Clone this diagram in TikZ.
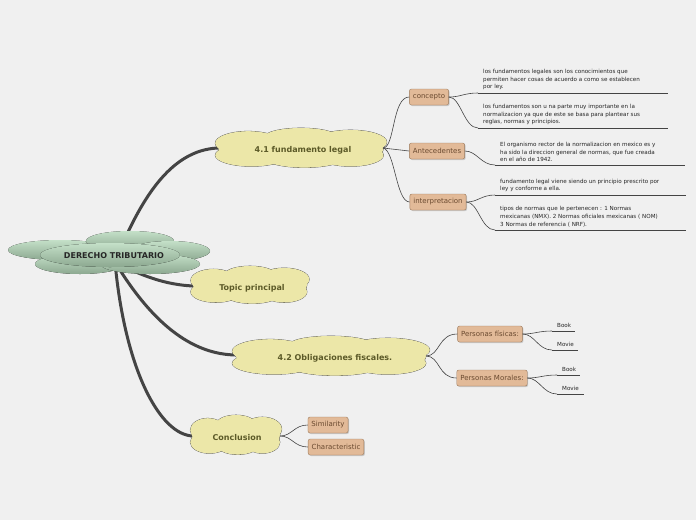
\documentclass[tikz,border=0pt]{standalone}
\usepackage{fontspec}
\setmainfont{DejaVu Sans}
\usetikzlibrary{shadows,calc}
\definecolor{bg}{HTML}{F0F0F0}
\definecolor{cloudy}{HTML}{ECE7A8}
\definecolor{cloudtxt}{HTML}{5C5A28}
\definecolor{boxf}{HTML}{E2BA98}
\definecolor{boxd}{HTML}{9C7A5C}
\definecolor{boxt}{HTML}{6A4A30}
\definecolor{lnk}{HTML}{444444}
\definecolor{gtop}{HTML}{C4E0C8}
\definecolor{gbot}{HTML}{8CA890}
\begin{document}
\begin{tikzpicture}[x=1pt,y=-1pt,
  box/.style={draw=boxd,fill=boxf,rounded corners=2pt,font=\fontsize{7}{8}\selectfont,text=boxt,inner sep=3.5pt,minimum height=16pt,drop shadow={opacity=0.35,shadow xshift=1pt,shadow yshift=-1pt}},
  leaf/.style={anchor=south west,align=left,font=\fontsize{5.6}{7.6}\selectfont,text=black!85,inner sep=1pt},
  ctxt/.style={font=\bfseries\fontsize{8}{9}\selectfont,text=cloudtxt},
  thin/.style={draw=lnk,line width=0.6pt},
  under/.style={draw=lnk,line width=0.8pt},
  main/.style={draw=lnk,line width=3pt,line cap=round}]
\fill[bg] (0,0) rectangle (696,520);
\useasboundingbox (0,0) rectangle (696,520);
\newcommand{\cloud}[5]{%
  \foreach \dx/\dy/\rx/\ry in {-0.32/-0.12/0.2/0.3, 0/-0.28/0.22/0.22, 0.3/-0.15/0.22/0.3, -0.3/0.18/0.22/0.28, 0.02/0.22/0.25/0.27, 0.3/0.18/0.2/0.28, -0.35/0/0.15/0.3, 0.36/0/0.14/0.3}
    \draw[lnk,line width=0.6pt] ({#1+\dx*#3},{#2+\dy*#4}) ellipse [x radius={\rx*#3},y radius={\ry*#4}];
  \foreach \dx/\dy/\rx/\ry in {-0.32/-0.12/0.2/0.3, 0/-0.28/0.22/0.22, 0.3/-0.15/0.22/0.3, -0.3/0.18/0.22/0.28, 0.02/0.22/0.25/0.27, 0.3/0.18/0.2/0.28, -0.35/0/0.15/0.3, 0.36/0/0.14/0.3, 0/0/0.3/0.25}
    \fill[#5] ({#1+\dx*#3},{#2+\dy*#4}) ellipse [x radius={\rx*#3},y radius={\ry*#4}];
}
\newcommand{\leafline}[6]{%
  \coordinate (#5a) at (#2,#3); \coordinate (#5b) at (#4,#3);
  \draw[thin] (#1.east) .. controls ($(#1.east)+(12,0)$) and ($(#5a)+(-14,0)$) .. (#5a);
  \draw[under] (#5a) -- (#5b);
  \node[leaf] (#5) at ($(#5a)+(4,-2)$) {#6};}
% main connectors
\coordinate (m) at (115,262);
\draw[main] (m) .. controls (140,200) and (170,150) .. (218,148);
\draw[main] (m) .. controls (140,275) and (165,285) .. (194,286);
\draw[main] (m) .. controls (150,320) and (190,355) .. (237,355);
\draw[main] (m) .. controls (125,370) and (160,435) .. (193,436);
% main cloud
\foreach \dx/\dy/\rx/\ry in {-50/-5/52/10, 20/-14/44/10, 60/-4/40/10, -30/9/45/10, 40/9/50/10, 0/0/70/12}
  \fill[top color=gtop,bottom color=gbot] ({110+\dx},{255+\dy}) ellipse [x radius=\rx,y radius=\ry];
\node[font=\bfseries\fontsize{8}{9}\selectfont,text=black!85] (root) at (114,256) {DERECHO TRIBUTARIO};
\cloud{301}{148}{165}{40}{cloudy}
\node[ctxt] (c1) at (303,150) {4.1 fundamento legal};
\cloud{250}{285}{114}{38}{cloudy}
\node[ctxt] (c2) at (252,288) {Topic principal};
\cloud{331}{356}{190}{40}{cloudy}
\node[ctxt] (c3) at (335,358) {4.2 Obligaciones fiscales.};
\cloud{236}{435}{88}{40}{cloudy}
\node[ctxt] (c4) at (237,438) {Conclusion};
% boxes
\node[box] (concepto) at (429,97) {concepto};
\node[box] (ante) at (437,151) {Antecedentes};
\node[box] (interp) at (438,202) {interpretacion};
\node[box] (pf) at (490,334) {Personas físicas:};
\node[box] (pm) at (492,378) {Personas Morales:};
\node[box] (sim) at (328,425) {Similarity};
\node[box] (char) at (336,447) {Characteristic};
\coordinate (c1r) at (383,148);
\draw[thin] (c1r) .. controls (395,148) and (392,97) .. (concepto.west);
\draw[thin] (c1r) -- (ante.west);
\draw[thin] (c1r) .. controls (395,150) and (396,202) .. (interp.west);
\coordinate (c3r) at (426,356);
\draw[thin] (c3r) .. controls (440,356) and (438,334) .. (pf.west);
\draw[thin] (c3r) .. controls (440,356) and (438,378) .. (pm.west);
\coordinate (c4r) at (280,436);
\draw[thin] (c4r) .. controls (292,436) and (294,425) .. (sim.west);
\draw[thin] (c4r) .. controls (292,436) and (294,447) .. (char.west);
% leaves
\leafline{concepto}{478}{93}{668}{l1}{los fundamentos legales son los conocimientos que\\permiten hacer cosas de acuerdo a como se establecen\\por ley.}
\leafline{concepto}{478}{128}{668}{l2}{los fundamentos son u na parte muy importante en la\\normalizacion ya que de este se basa para plantear sus\\reglas, normas y principios.}
\leafline{ante}{495}{165}{685}{l3}{El organismo rector de la normalizacion en mexico es y\\ha sido la direccion general de normas, que fue creada\\en el año de 1942.}
\leafline{interp}{495}{195}{686}{l4}{fundamento legal viene siendo un principio prescrito por\\ley y conforme a ella.}
\leafline{interp}{495}{230}{686}{l5}{tipos de normas que le pertenecen : 1 Normas\\mexicanas (NMX). 2 Normas oficiales mexicanas ( NOM)\\3 Normas de referencia ( NRF).}
\leafline{pf}{552}{331}{575}{l6}{Book}
\leafline{pf}{552}{350}{578}{l7}{Movie}
\leafline{pm}{557}{375}{580}{l8}{Book}
\leafline{pm}{557}{394}{584}{l9}{Movie}
\end{tikzpicture}
\end{document}
